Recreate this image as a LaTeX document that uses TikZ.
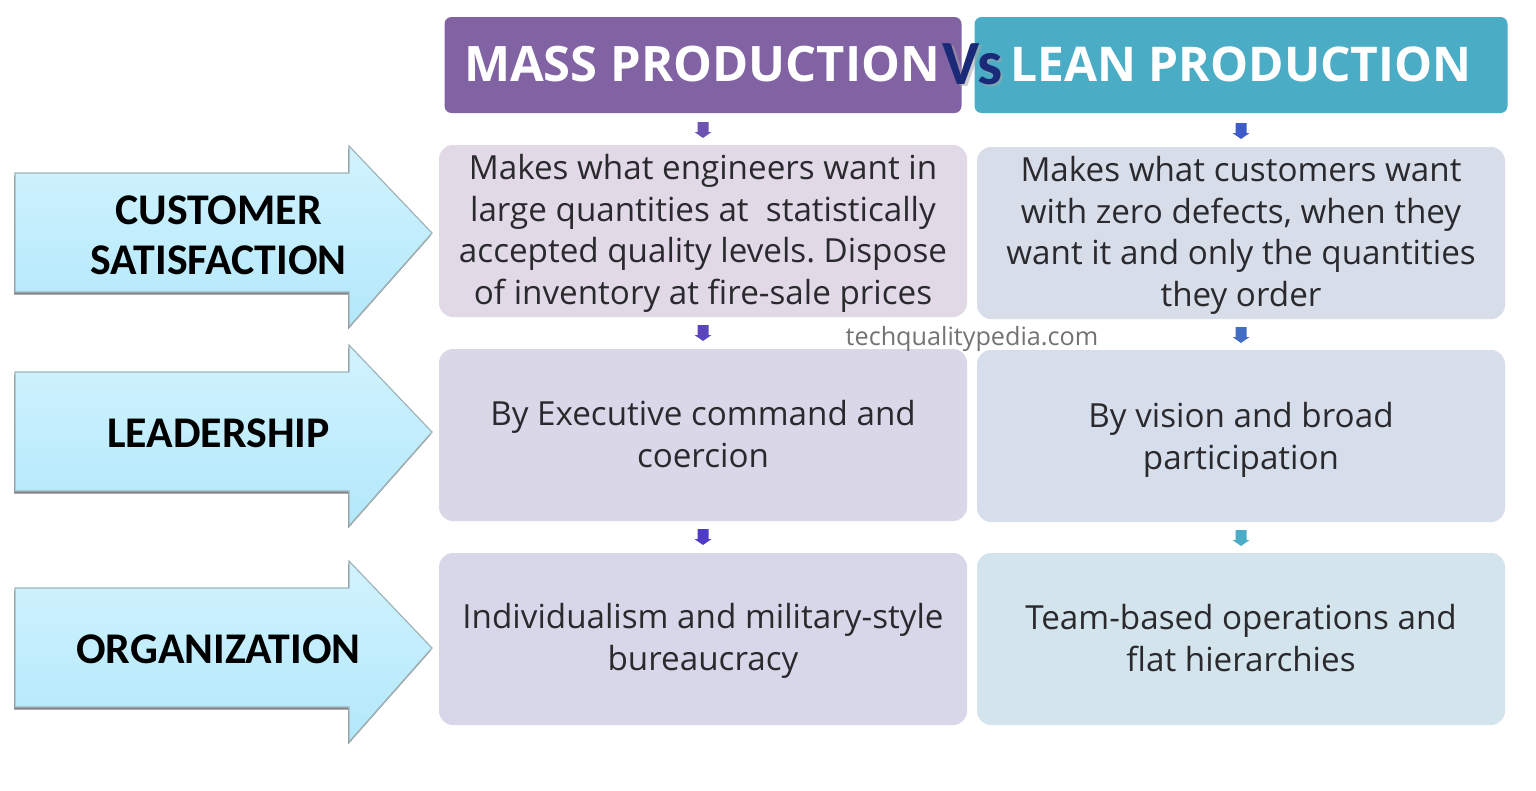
\documentclass[tikz,border=0pt]{standalone}
\usepackage{fontspec}
\setmainfont{Open Sans}
\newfontfamily\arrowfont{Carlito}
\usetikzlibrary{shadows,calc}
\definecolor{arrowtop}{HTML}{D2F3FE}
\definecolor{arrowbot}{HTML}{B2E8FB}
\definecolor{arrowline}{HTML}{9FB4BA}
\definecolor{massc}{HTML}{8162A2}
\definecolor{leanc}{HTML}{4BACC6}
\definecolor{vsc}{HTML}{1A2A78}
\definecolor{bodytext}{HTML}{2A2A2E}
\frenchspacing
\tikzset{
  x=1pt,y=-1pt,
  header/.style={rounded corners=7pt,minimum height=96pt,inner sep=0pt},
  headertext/.style={font=\fontsize{#1}{56}\selectfont\bfseries,text=white,inner sep=0pt},
  cell/.style={rounded corners=14pt,minimum height=172pt,minimum width=528pt,inner sep=0pt},
  celltext/.style={align=center,inner sep=0pt,font=\fontsize{33.2}{41.6}\selectfont,text=bodytext},
  side/.style={font=\arrowfont\fontsize{43.8}{50}\selectfont\bfseries,align=center,text=black,inner sep=0pt},
  bigarrow/.style={draw=arrowline,line width=1.2pt,top color=arrowtop,bottom color=arrowbot,
     drop shadow={shadow xshift=-1pt,shadow yshift=-2.5pt,fill=black!60,opacity=.8}},
  vstext/.style={text=#1,inner sep=0pt,font=\arrowfont\fontsize{63}{63}\selectfont\bfseries}
}
\newcommand{\tinyarrow}[3]{% x,y,colour
  \fill[#3] ($(#1,#2)+(-5.5,-8)$) -- ($(#1,#2)+(5.5,-8)$) -- ($(#1,#2)+(5.5,2)$) -- ($(#1,#2)+(8.5,2)$) -- ($(#1,#2)+(0,8)$) -- ($(#1,#2)+(-8.5,2)$) -- ($(#1,#2)+(-5.5,2)$) -- cycle;}
\newcommand{\bigarr}[1]{% top y
  \draw[bigarrow] (15,#1+27) -- (349,#1+27) -- (349,#1) -- (432,#1+87) -- (349,#1+181) -- (349,#1+146) -- (15,#1+146) -- cycle;}
\begin{document}
\begin{tikzpicture}
\useasboundingbox (0,0) rectangle (1536,790);
\fill[white] (0,0) rectangle (1536,790);
% headers
\node[header,fill=massc,minimum width=517pt] (mass) at (703,65) {};
\node[header,fill=leanc,minimum width=533pt] (lean) at (1241,65) {};
\node[headertext=48.9] (masst) at (702,64) {MASS PRODUCTION};
\node[headertext=47.9] (leant) at (1241,64) {LEAN PRODUCTION};
% Vs
\node[vstext=black!35,opacity=.55] (vsshadow) at (975,66) {Vs};
\node[vstext=vsc] (vs) at (972.5,64) {Vs};
% side arrows
\bigarr{146}
\bigarr{345}
\bigarr{561}
\node[side] (s1) at (218.5,235.5) {CUSTOMER\\SATISFACTION};
\node[side] (s2) at (218.5,433) {LEADERSHIP};
\node[side] (s3) at (218.5,649) {ORGANIZATION};
% cells
\node[cell,fill={rgb,255:red,226;green,217;blue,230}] (m1) at (703,231) {};
\node[cell,fill={rgb,255:red,217;green,215;blue,232}] (m2) at (703,435) {};
\node[cell,fill={rgb,255:red,216;green,215;blue,233}] (m3) at (703,639) {};
\node[cell,fill={rgb,255:red,216;green,221;blue,234}] (l1) at (1241,233) {};
\node[cell,fill={rgb,255:red,214;green,222;blue,235}] (l2) at (1241,436) {};
\node[cell,fill={rgb,255:red,212;green,228;blue,236}] (l3) at (1241,639) {};
\node[celltext] (m1t) at (703,233.5) {Makes what engineers want in\\large quantities at\ \ statistically\\accepted quality levels. Dispose\\of inventory at fire-sale prices};
\node[celltext] (m2t) at (703,434) {By Executive command and\\coercion};
\node[celltext] (m3t) at (703,641) {Individualism and military-style\\bureaucracy};
\node[celltext] (l1t) at (1241,235.5) {Makes what customers want\\with zero defects, when they\\want it and only the quantities\\they order};
\node[celltext] (l2t) at (1241,440) {By vision and broad\\participation};
\node[celltext] (l3t) at (1241,638) {Team-based operations and\\flat hierarchies};
% small arrows
\tinyarrow{703}{130}{massc!85!blue}
\tinyarrow{703}{333}{massc!70!blue}
\tinyarrow{703}{537}{massc!60!blue}
\tinyarrow{1241}{131}{leanc!45!blue!70!gray}
\tinyarrow{1241}{335}{leanc!60!blue!75!gray}
\tinyarrow{1241}{538}{leanc}
\node[font=\fontsize{25.2}{30}\selectfont,text=black!55,inner sep=0pt] (wm) at (972,339) {techqualitypedia.com};
\end{tikzpicture}
\end{document}
